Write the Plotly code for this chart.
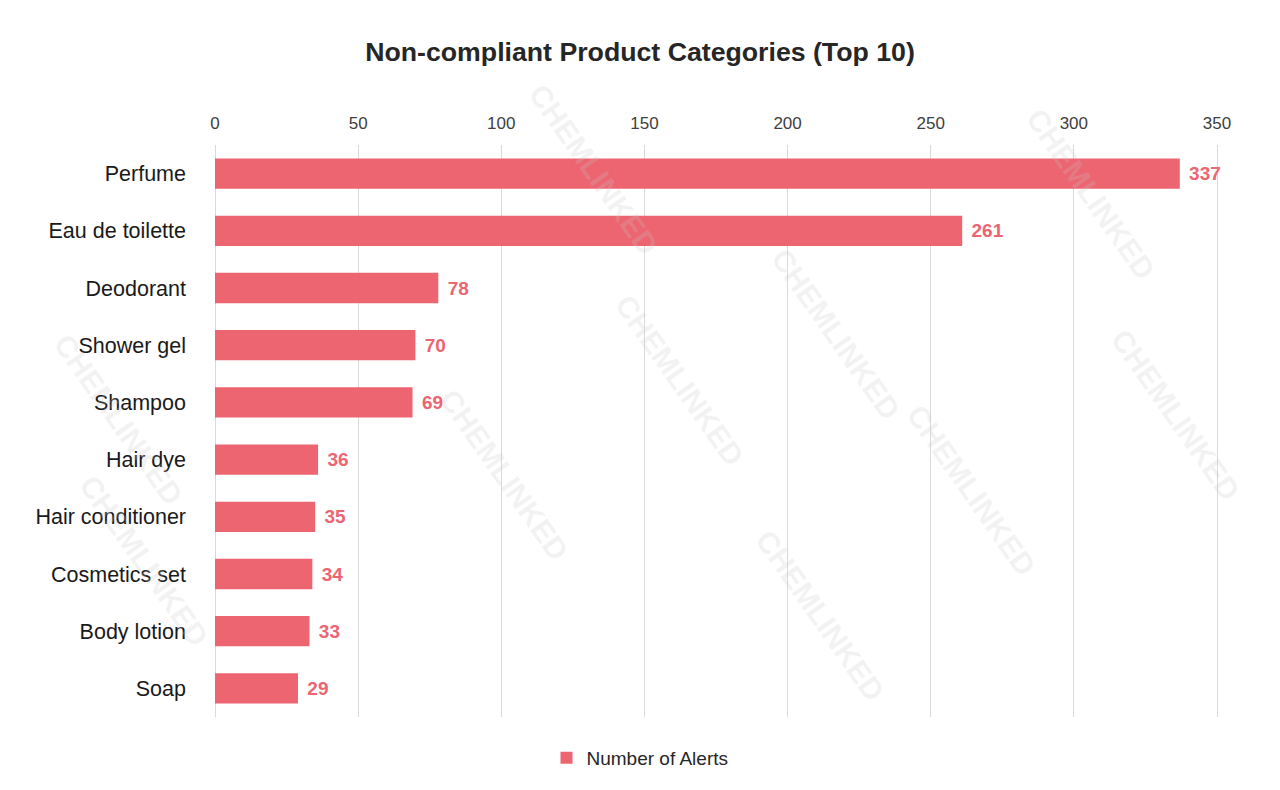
import plotly.graph_objects as go

categories = ["Perfume", "Eau de toilette", "Deodorant", "Shower gel", "Shampoo",
              "Hair dye", "Hair conditioner", "Cosmetics set", "Body lotion", "Soap"]
alerts = [337, 261, 78, 70, 69, 36, 35, 34, 33, 29]
tick_vals = [0, 50, 100, 150, 200, 250, 300, 350]

BAR = "#EC6571"

fig = go.Figure()
fig.add_trace(go.Bar(
    y=categories, x=alerts, orientation="h",
    name="Number of Alerts",
    marker=dict(color=BAR, line=dict(width=0)),
    text=["\u2004" + str(v) for v in alerts], textposition="outside",
    textfont=dict(color=BAR, size=19, family="Liberation Sans, Arial", weight="bold"),
    cliponaxis=False,
))

# faint watermarks
wm = [(520, 75), (1165, 100), (910, 240), (45, 325), (680, 380), (1250, 415),
      (430, 475), (1045, 585), (70, 655), (820, 710)]
for (px, py) in wm:
    fig.add_annotation(xref="paper", yref="paper",
                       x=(px - 215) / 1004, y=1 - (py - 145) / 572,
                       text="<b>CHEMLINKED</b>", showarrow=False, textangle=55,
                       font=dict(size=30, color="rgba(200,200,200,0.22)", family="Liberation Sans, Arial"))

fig.update_layout(
    width=1280, height=790,
    paper_bgcolor="white", plot_bgcolor="white",
    margin=dict(l=215, r=61, t=145, b=73),
    title=dict(text="<b>Non-compliant Product Categories (Top 10)</b>",
               x=0.5, xref="container", y=1 - 52 / 790, yanchor="middle", xanchor="center",
               font=dict(size=26.7, color="#262626", family="Liberation Sans, Arial")),
    bargap=0.47,
    showlegend=True,
    legend=dict(orientation="h", xref="container", x=0.5, xanchor="center",
                yref="container", y=1 - 758 / 790, yanchor="middle",
                itemwidth=30,
                font=dict(size=19, color="#262626", family="Liberation Sans, Arial")),
    font=dict(family="Liberation Sans, Arial"),
)
fig.update_xaxes(side="top", range=[0, 350.7], tickvals=tick_vals,
                 showgrid=True, gridcolor="#D9D9D9", gridwidth=1,
                 zeroline=True, zerolinecolor="#D9D9D9", zerolinewidth=1,
                 showline=False, ticks="", ticklabelstandoff=12,
                 tickfont=dict(size=17, color="#404040"))
fig.update_yaxes(autorange="reversed", categoryorder="array", categoryarray=categories,
                 showgrid=False, showline=False, ticks="", ticklabelstandoff=28,
                 tickfont=dict(size=21.5, color="#1a1a1a"))

fig.write_html("out.html")
